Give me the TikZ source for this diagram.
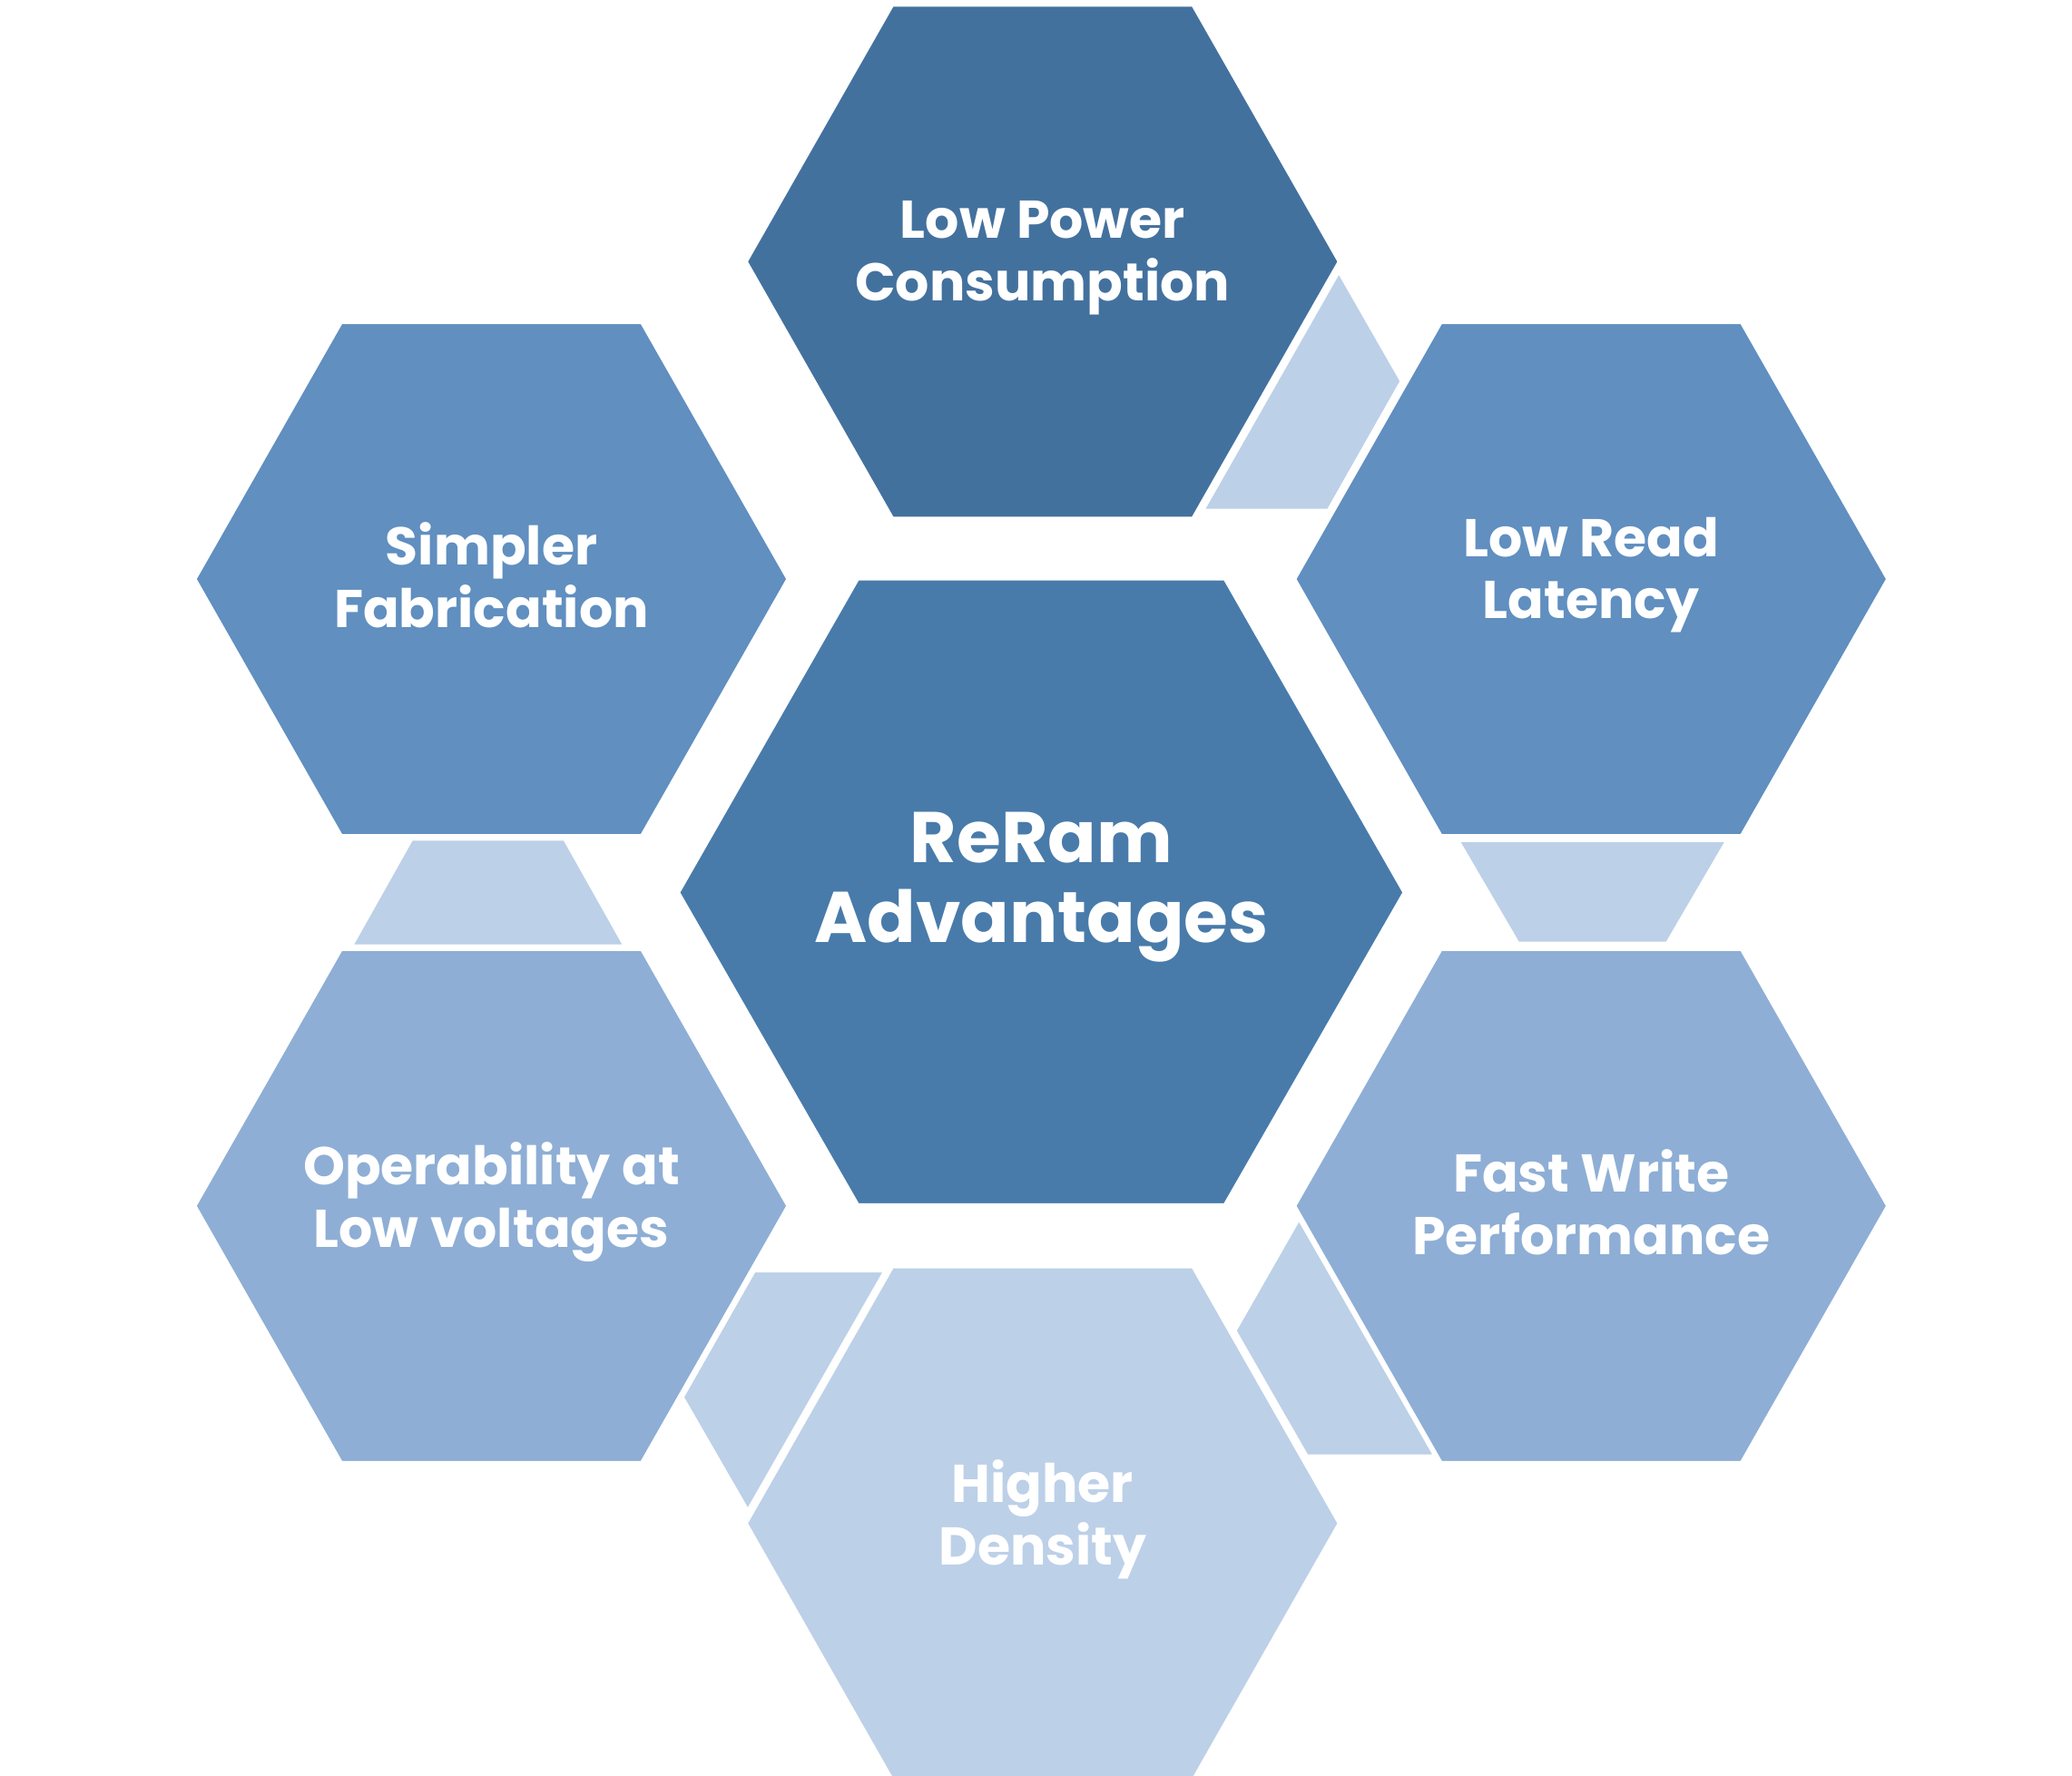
\documentclass[tikz,border=0pt]{standalone}
\usepackage{fontspec}
\setmainfont{Poppins}
\definecolor{cTop}{HTML}{43719E}
\definecolor{cMid}{HTML}{487BAA}
\definecolor{cB}{HTML}{608FC0}
\definecolor{cC}{HTML}{8EAED5}
\definecolor{cD}{HTML}{BCD0E8}
\begin{document}
\begin{tikzpicture}[x=1pt,y=-1pt,
  hexs/.style={draw=white,line width=2pt},
  lbl/.style={text=white,align=center,font=\fontsize{40}{47}\selectfont\bfseries},
  big/.style={text=white,align=center,font=\fontsize{54}{60}\selectfont\bfseries}]
\useasboundingbox (0,0) rectangle (1560,1337);
\newcommand\hex[4]{% cx cy color name
  \fill[#3,hexs] (#1-113,#2-193) -- (#1+113,#2-193) -- (#1+223,#2) -- (#1+113,#2+193) -- (#1-113,#2+193) -- (#1-223,#2) -- cycle;
  \coordinate (#4) at (#1,#2);}
% connectors
\fill[cD,hexs] (1008,205) -- (1055,287) -- (1000,384) -- (906,384) -- cycle;
\fill[cD,hexs] (310,632) -- (425,632) -- (470,712) -- (265,712) -- cycle;
\fill[cD,hexs] (1098,633) -- (1300,633) -- (1255,710) -- (1143,710) -- cycle;
\fill[cD,hexs] (978,918) -- (1080,1096) -- (984,1096) -- (930,1002) -- cycle;
\fill[cD,hexs] (568,957) -- (666,957) -- (563,1137) -- (514,1052) -- cycle;
\hex{785}{197}{cTop}{top}
\hex{370}{436}{cB}{simp}
\hex{1198}{436}{cB}{read}
\hex{370}{908}{cC}{oper}
\hex{1198}{908}{cC}{fast}
\hex{785}{1147}{cD}{dens}
\fill[cMid,hexs] (646,436) -- (922,436) -- (1057,672) -- (922,907) -- (646,907) -- (511,672) -- cycle;
\node[big] (c) at (784,668) {ReRam\\Advantages};
\node[lbl] (t1) at (785,194) {Low Power\\Consumption};
\node[lbl] (t2) at (370,433) {Simpler\\Fabrication};
\node[lbl] (t3) at (1198,433) {Low Read\\Latency};
\node[lbl] (t4) at (370,905) {Operability at\\Low voltages};
\node[lbl] (t5) at (1198,905) {Fast Write\\Performance};
\node[lbl] (t6) at (785,1144) {Higher\\Density};
\end{tikzpicture}
\end{document}
